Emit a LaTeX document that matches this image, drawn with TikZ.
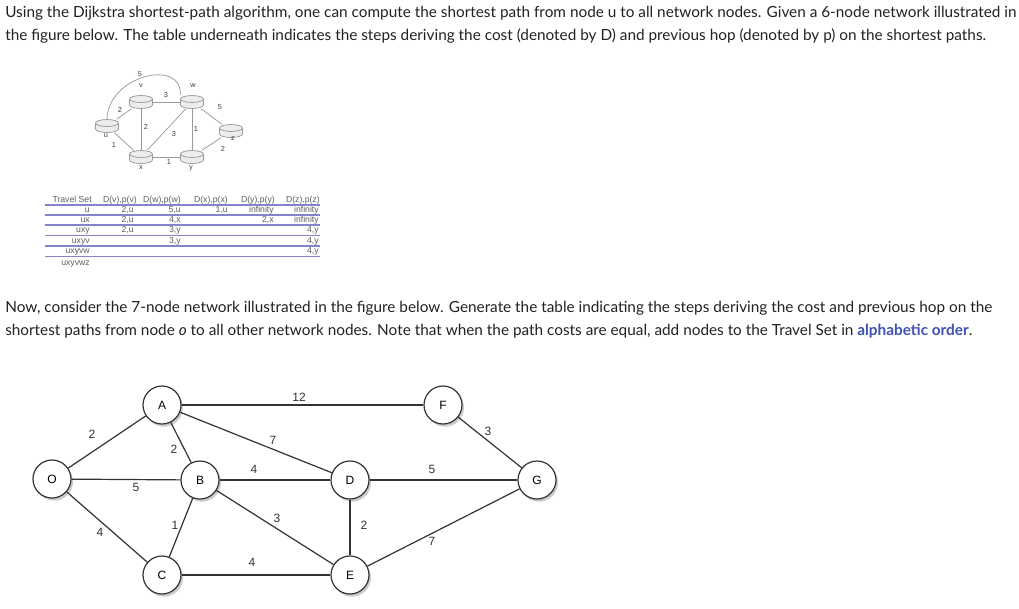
\documentclass[tikz,border=0pt]{standalone}
\usepackage{fontspec}
\setmainfont{Lato}
\newfontfamily\arialfont{Liberation Sans}
\usetikzlibrary{shadows}
\definecolor{inkgray}{HTML}{222222}
\definecolor{tblgray}{HTML}{5E5E5E}
\definecolor{rulebl}{HTML}{8484C8}
\definecolor{linkbl}{HTML}{3F51B5}
\definecolor{wire}{HTML}{9A9A9A}
\definecolor{rtfill}{HTML}{EDEDED}
\definecolor{edgeink}{HTML}{333333}

\begin{document}
\begin{tikzpicture}[x=0.75pt, y=-0.75pt,
  para/.style={anchor=north west, align=left, inner sep=0pt, text=inkgray,
    font=\fontsize{11.5}{17.25}\selectfont},
  rtbox/.style={rectangle, minimum width=17.25pt, minimum height=9.75pt, inner sep=0pt},
  rtarc/.style={x radius=8.6pt, y radius=2.6pt},
  wire/.style={draw=wire, line width=0.55pt},
  tiny/.style={font=\arialfont\fontsize{5.5}{6}\selectfont, text=black!75, inner sep=0pt},
  cell/.style={font=\arialfont\fontsize{6.5}{7}\selectfont, text=tblgray, anchor=base east, inner sep=0pt},
  tblrule/.style={draw=rulebl, line width=0.9pt},
  vertex/.style={circle, draw=edgeink, line width=0.9pt, fill=white, minimum size=28.5pt,
    inner sep=0pt, font=\arialfont\fontsize{9}{10}\selectfont,
    drop shadow={shadow xshift=1.5pt, shadow yshift=-2pt, opacity=0.4}},
  link/.style={draw=edgeink, line width=0.9pt},
  wt/.style={font=\arialfont\fontsize{9}{10}\selectfont, text=edgeink, inner sep=0pt},
]

% Background
\fill[white] (0,0) rectangle (1019,608);

% Question text
\node[para] (intro) at (5,6)
  {Using the Dijkstra shortest-path algorithm, one can compute the shortest path from node u to all network nodes. Given a 6-node network illustrated in\\
   the figure below. The table underneath indicates the steps deriving the cost (denoted by D) and previous hop (denoted by p) on the shortest paths.};

% Small 6-node network
\node[rtbox] (u) at (107,126) {};
\node[rtbox] (v) at (141,102) {};
\node[rtbox] (w) at (192,102) {};
\node[rtbox] (x) at (141,157) {};
\node[rtbox] (y) at (192,157) {};
\node[rtbox] (z) at (231,131) {};

\draw[wire] (u.north) .. controls (108,75) and (183,58) .. (w.north west);
\draw[wire] (u) -- (v);
\draw[wire] (u) -- (x);
\draw[wire] (v) -- (w);
\draw[wire] (v) -- (x);
\draw[wire] (x) -- (w);
\draw[wire] (w) -- (y);
\draw[wire] (x) -- (y);
\draw[wire] (w) -- (z);
\draw[wire] (y) -- (z);

% router disks
\foreach \r in {u,v,w,x,y,z} {
  \draw[wire, fill=rtfill] ([shift={(-8.6pt,2.25pt)}]\r.center)
    arc[start angle=180, end angle=0, rtarc] -- ++(0,-4.5pt)
    arc[start angle=0, end angle=-180, rtarc] -- cycle;
  \draw[wire] ([shift={(-8.6pt,2.25pt)}]\r.center)
    arc[start angle=180, end angle=360, rtarc];
}

\node[tiny] (luw) at (140,74) {5};
\node[tiny] (nv) at (141,86) {v};
\node[tiny] (nw) at (193,86) {w};
\node[tiny] (lvw) at (166,95) {3};
\node[tiny] (lwz) at (220,107) {5};
\node[tiny] (luv) at (120,110) {2};
\node[tiny] (lvx) at (146,127) {2};
\node[tiny] (lxw) at (174,134) {3};
\node[tiny] (lwy) at (196,129) {1};
\node[tiny] (nu) at (106,136) {u};
\node[tiny] (lux) at (114,145) {1};
\node[tiny] (lxy) at (169,162) {1};
\node[tiny] (nx) at (141,168) {x};
\node[tiny] (ny) at (191,168) {y};
\node[tiny] (nz) at (233,139) {z};
\node[tiny] (lyz) at (223,149) {2};

% Table of steps
\node[cell] (hset) at (92,202) {Travel Set};
\node[cell] (hv) at (137,202) {D(v),p(v)};
\node[cell] (hw) at (181,202) {D(w),p(w)};
\node[cell] (hx) at (228,202) {D(x),p(x)};
\node[cell] (hy) at (275,202) {D(y),p(y)};
\node[cell] (hz) at (320,202) {D(z),p(z)};

\node[cell] (r1) at (90,212.5) {u};
\node[cell] (r1v) at (134,212.5) {2,u};
\node[cell] (r1w) at (181,212.5) {5,u};
\node[cell] (r1x) at (228,212.5) {1,u};
\node[cell] (r1y) at (274,212.5) {infinity};
\node[cell] (r1z) at (319,212.5) {infinity};

\node[cell] (r2) at (90,222.5) {ux};
\node[cell] (r2v) at (134,222.5) {2,u};
\node[cell] (r2w) at (181,222.5) {4,x};
\node[cell] (r2y) at (274,222.5) {2,x};
\node[cell] (r2z) at (319,222.5) {infinity};

\node[cell] (r3) at (90,232.5) {uxy};
\node[cell] (r3v) at (134,232.5) {2,u};
\node[cell] (r3w) at (181,232.5) {3,y};
\node[cell] (r3z) at (319,232.5) {4,y};

\node[cell] (r4) at (90,243) {uxyv};
\node[cell] (r4w) at (181,243) {3,y};
\node[cell] (r4z) at (319,243) {4,y};

\node[cell] (r5) at (90,253.5) {uxyvw};
\node[cell] (r5z) at (319,253.5) {4,y};

\node[cell] (r6) at (90,265) {uxyvwz};

\draw[tblrule] (45,205) -- (320,205);
\draw[tblrule] (45,215) -- (320,215);
\draw[tblrule] (45,225) -- (320,225);
\draw[tblrule] (45,235.5) -- (320,235.5);
\draw[tblrule] (45,246) -- (320,246);
\draw[tblrule] (45,256.5) -- (320,256.5);

% Second question
\node[para] (task) at (5,301)
  {Now, consider the 7-node network illustrated in the figure below. Generate the table indicating the steps deriving the cost and previous hop on the\\
   shortest paths from node \textit{o} to all other network nodes. Note that when the path costs are equal, add nodes to the Travel Set in \textcolor{linkbl}{\bfseries alphabetic order}.};

% 7-node network
\node[vertex] (O) at (52,479) {O};
\node[vertex] (A) at (162,405) {A};
\node[vertex] (B) at (200,480) {B};
\node[vertex] (C) at (162,575) {C};
\node[vertex] (D) at (350,480) {D};
\node[vertex] (E) at (350,575) {E};
\node[vertex] (F) at (443,405) {F};
\node[vertex] (G) at (537,480) {G};

\draw[link] (O) -- (A);
\draw[link] (O) -- (B);
\draw[link] (O) -- (C);
\draw[link] (A) -- (B);
\draw[link] (A) -- (F);
\draw[link] (A) -- (D);
\draw[link] (B) -- (D);
\draw[link] (B) -- (C);
\draw[link] (B) -- (E);
\draw[link] (C) -- (E);
\draw[link] (D) -- (E);
\draw[link] (D) -- (G);
\draw[link] (F) -- (G);
\draw[link] (E) -- (G);

\node[wt] (wOA) at (92,434) {2};
\node[wt] (wAF) at (299,397) {12};
\node[wt] (wAB) at (174,449) {2};
\node[wt] (wAD) at (273,440) {7};
\node[wt] (wFG) at (488,431) {3};
\node[wt] (wBD) at (254,469) {4};
\node[wt] (wDG) at (432,469) {5};
\node[wt] (wOB) at (136,487) {5};
\node[wt] (wBE) at (277,518) {3};
\node[wt] (wDE) at (364,525) {2};
\node[wt] (wEG) at (432,541) {7};
\node[wt] (wOC) at (100,532) {4};
\node[wt] (wBC) at (175,525) {1};
\node[wt] (wCE) at (252,562) {4};
\end{tikzpicture}
\end{document}
